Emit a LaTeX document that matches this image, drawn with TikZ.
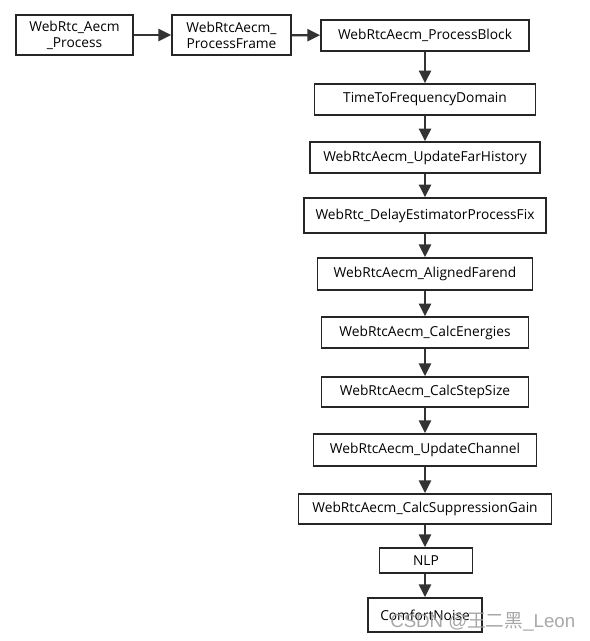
\documentclass[tikz,border=0pt]{standalone}
\usepackage{fontspec}
\setmainfont{Open Sans}
\newfontfamily\markfont{Liberation Sans}
\newfontfamily\cjk{Noto Sans CJK SC}
\usetikzlibrary{arrows.meta}

\begin{document}
\begin{tikzpicture}[x=0.75pt,y=-0.75pt,
  box/.style={draw=black!85, line width=1.3pt, fill=white, inner sep=0pt, align=center,
    minimum height=23pt, font=\fontsize{10.3}{12}\selectfont},
  flow/.style={-{Triangle[length=9.5pt,width=9pt]}, line width=1.7pt, draw=black!80}]
\useasboundingbox (0,0) rectangle (589,641);

% first row
\node[box, minimum width=87.75pt, minimum height=30pt] (aecm) at (74.5,35) {WebRtc\_Aecm\\\_Process};
\node[box, minimum width=89.25pt, minimum height=30pt] (frame) at (231.5,35) {WebRtcAecm\_\\ProcessFrame};
\node[box, minimum width=156pt] (block) at (425,35.5) {WebRtcAecm\_ProcessBlock};

% processing chain
\node[box, minimum width=165.75pt] (t2f) at (425,99.5) {TimeToFrequencyDomain};
\node[box, minimum width=172.5pt] (farhist) at (425,157.5) {WebRtcAecm\_UpdateFarHistory};
\node[box, minimum width=181.5pt, minimum height=26pt] (delay) at (425,215.5) {WebRtc\_DelayEstimatorProcessFix};
\node[box, minimum width=161.25pt, minimum height=24pt] (aligned) at (425,274) {WebRtcAecm\_AlignedFarend};
\node[box, minimum width=155.25pt] (energy) at (425,332.5) {WebRtcAecm\_CalcEnergies};
\node[box, minimum width=155.25pt, minimum height=22.5pt] (stepsize) at (425,392) {WebRtcAecm\_CalcStepSize};
\node[box, minimum width=167.25pt, minimum height=24pt] (channel) at (425,450) {WebRtcAecm\_UpdateChannel};
\node[box, minimum width=189.75pt, minimum height=22.5pt] (gain) at (425,509) {WebRtcAecm\_CalcSuppressionGain};
\node[box, minimum width=69.75pt, minimum height=18.75pt] (nlp) at (426,560.5) {NLP};
\node[box, minimum width=85.5pt, minimum height=25.5pt] (noise) at (425,615) {ComfortNoise};

\draw[flow] (aecm) -- (frame);
\draw[flow] (frame) -- (block);
\draw[flow] (block) -- (t2f);
\draw[flow] (t2f) -- (farhist);
\draw[flow] (farhist) -- (delay);
\draw[flow] (delay) -- (aligned);
\draw[flow] (aligned) -- (energy);
\draw[flow] (energy) -- (stepsize);
\draw[flow] (stepsize) -- (channel);
\draw[flow] (channel) -- (gain);
\draw[flow] (gain) -- (nlp.north -| gain.south);
\draw[flow] (nlp.south -| gain.south) -- (noise);

% watermark
\node[anchor=base west, inner sep=0pt, text=gray!75, opacity=0.9,
  font=\markfont\fontsize{14}{14}\selectfont] (mark) at (390,627) {CSDN @{\cjk 王二黑}\_Leon};
\end{tikzpicture}
\end{document}
